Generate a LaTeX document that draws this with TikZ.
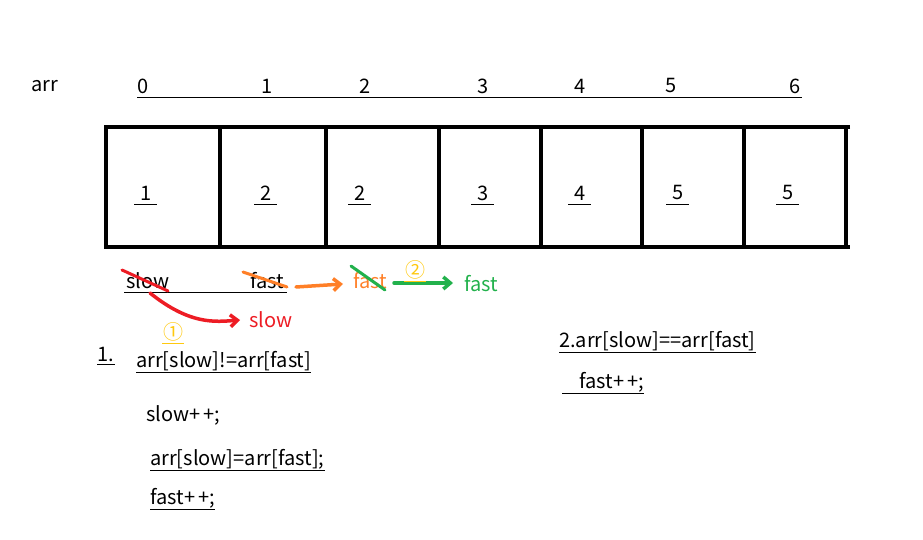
\documentclass[tikz,border=0pt]{standalone}
\usepackage{fontspec}
\setmainfont{Noto Sans CJK SC}
\usetikzlibrary{arrows.meta}
\definecolor{myred}{HTML}{ED1C24}
\definecolor{myorange}{HTML}{FF7F27}
\definecolor{mygreen}{HTML}{22B14C}
\definecolor{myyellow}{HTML}{FFC90E}
\tikzset{x=1pt,y=-1pt,
 t/.style={inner sep=0pt,font=\fontsize{20}{24}\selectfont},
 strike/.style={line width=3pt,line cap=round},
 arr/.style={line width=3.5pt,line cap=round,-{Straight Barb[length=7pt,width=12pt,line width=3.5pt]}}}
\begin{document}
\begin{tikzpicture}
\useasboundingbox (0,0) rectangle (923,540);
% top indices
\foreach \x/\n [count=\i] in {143/0,267/1,365/2,483/3,580/4,671/5,795/6}
  \node[t] (i\i) at (\x,86) {\n};
\node[t] (arr) at (45,86) {arr};
\draw (137,97) -- (802,97);
% array box
\draw[line width=4pt] (850,127) -- (106,127) -- (106,247) -- (850,247);
\foreach \x in {220,326,439,541,642,744,846}
  \draw[line width=4pt] (\x,127) -- (\x,247);
\foreach \x/\n [count=\i] in {146/1,266/2,360/2,483/3,580/4,678/5,788/5}{
  \node[t] (c\i) at (\x,193) {\n};
  \draw ([xshift=-6pt]c\i.south west|-0,204) -- ([xshift=5pt]c\i.south east|-0,204);}
% slow/fast
\node[t] (slow) at (148,281) {slow};
\node[t] (fast) at (267,281) {fast};
\draw (124,292) -- (287,292);
\draw[strike,myred] (122,270) -- (168,291);
\draw[arr,myred] (150,293) .. controls (190,325) and (215,322) .. (240,320);
\node[t,text=myred] (slow2) at (271,320) {slow};
\draw[strike,myorange] (243,272) -- (287,287);
\draw[arr,myorange] (296,287) -- (343,284);
\node[t,text=myorange] (fast2) at (370,281) {fast};
\draw[strike,mygreen] (351,266) -- (385,290);
\draw[arr,mygreen] (394,283) -- (453,283);
\node[t,text=mygreen] (fast3) at (481,284) {fast};
\node[t,text=myyellow] (n2) at (415,270) {②};
\draw[myyellow] (404,281) -- (426,281);
\node[t,text=myyellow] (n1) at (173,332) {①};
\draw[myyellow] (162,343) -- (184,343);
% code
\node[t,anchor=west] (one) at (97,354) {1.};
\draw (97,364) -- (115,364);
\node[t,anchor=west] (l1) at (136,361) {arr[slow]!=arr[fast]};
\draw (136,372) -- (l1.east|-0,372);
\node[t,anchor=west] (l2) at (146,415) {slow+\,+;};
\node[t,anchor=west] (l3) at (150,459) {arr[slow]=arr[fast];};
\draw (150,470) -- (l3.east|-0,470);
\node[t,anchor=west] (l4) at (150,498) {fast+\,+;};
\draw (150,509) -- (l4.east|-0,509);
\node[t,anchor=west] (r1) at (559,341) {2.arr[slow]==arr[fast]};
\draw (559,352) -- (r1.east|-0,352);
\node[t,anchor=west] (r2) at (579,382) {fast+\,+;};
\draw (562,393) -- (r2.east|-0,393);
\end{tikzpicture}
\end{document}
